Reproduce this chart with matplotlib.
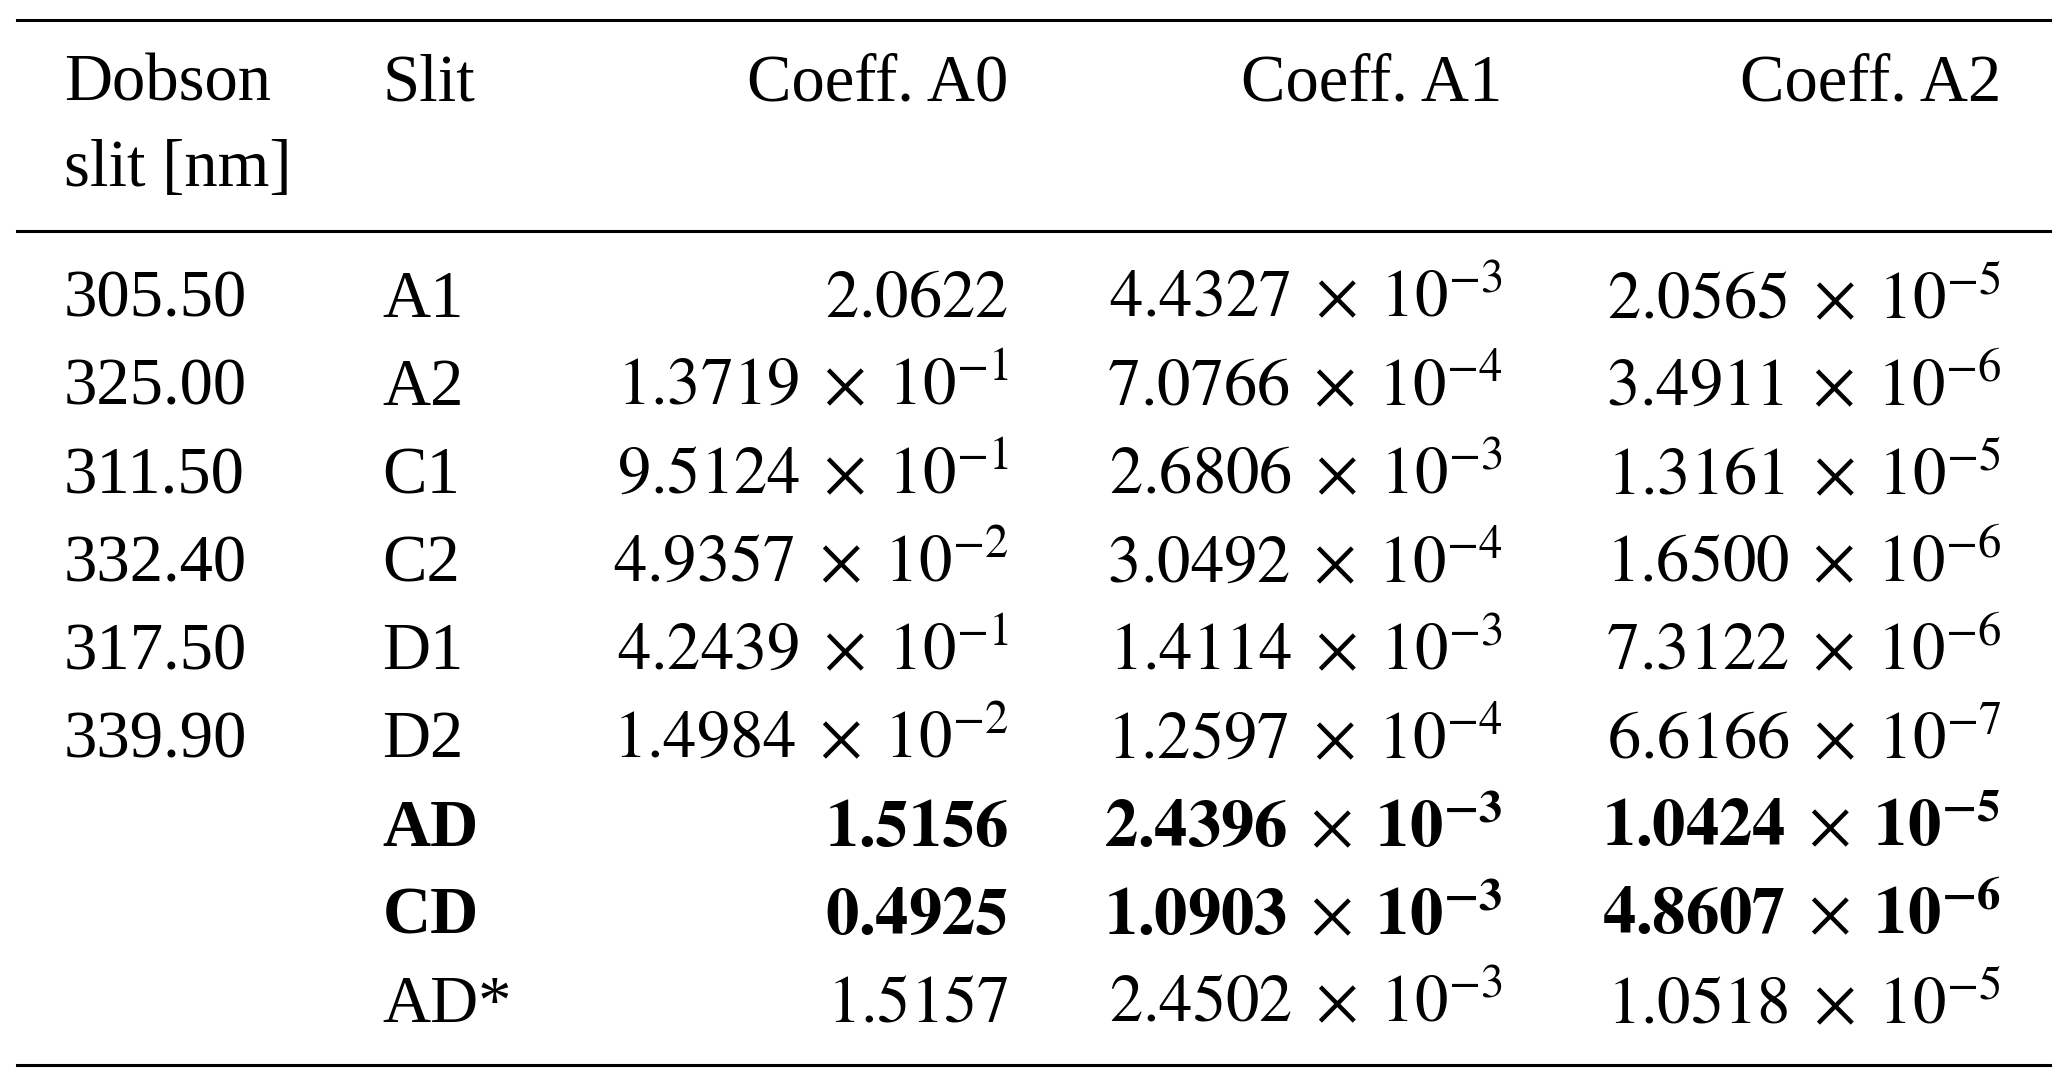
import matplotlib
matplotlib.use("Agg")
import matplotlib.pyplot as plt

plt.rcParams['mathtext.fontset'] = 'stix'
plt.rcParams['font.family'] = ['Liberation Serif', 'DejaVu Serif']

header = [["Dobson", "slit [nm]"], ["Slit"], ["Coeff. A0"], ["Coeff. A1"], ["Coeff. A2"]]
wavelengths = ["305.50", "325.00", "311.50", "332.40", "317.50", "339.90", "", "", ""]
slits = ["A1", "A2", "C1", "C2", "D1", "D2", "AD", "CD", "AD*"]
a0 = [("2.0622", None), ("1.3719", -1), ("9.5124", -1), ("4.9357", -2), ("4.2439", -1),
      ("1.4984", -2), ("1.5156", None), ("0.4925", None), ("1.5157", None)]
a1 = [("4.4327", -3), ("7.0766", -4), ("2.6806", -3), ("3.0492", -4), ("1.4114", -3),
      ("1.2597", -4), ("2.4396", -3), ("1.0903", -3), ("2.4502", -3)]
a2 = [("2.0565", -5), ("3.4911", -6), ("1.3161", -5), ("1.6500", -6), ("7.3122", -6),
      ("6.6166", -7), ("1.0424", -5), ("4.8607", -6), ("1.0518", -5)]
bold_rows = [False] * 6 + [True, True, False]

def fmt(v, bold):
    m, e = v
    if bold:
        if e is None:
            return r"$\mathbf{%s}$" % m
        return r"$\mathbf{%s}\;\times\;\mathbf{10}^{\mathbf{%d}}$" % (m, e)
    if e is None:
        return r"$%s$" % m
    return r"$%s\;\times\;10^{%d}$" % (m, e)

fig = plt.figure(figsize=(20.67, 10.88), dpi=100)
fs = 48
def y(f):
    return 1 - f

for yy in [0.018, 0.212, 0.979]:
    fig.add_artist(plt.Line2D([0.008, 0.992], [y(yy), y(yy)], color='black', lw=2.2))

col_x = [0.031, 0.185, 0.488, 0.727, 0.968]
col_ha = ['left', 'left', 'right', 'right', 'right']
for i, h in enumerate(header):
    for j, line in enumerate(h):
        fig.text(col_x[i], y(0.077 + j * 0.079), line, ha=col_ha[i], va='center', fontsize=fs)

for r in range(len(slits)):
    yy = y(0.276 + r * 0.081)
    b = bold_rows[r]
    w = 'bold' if b else 'normal'
    fig.text(col_x[0], yy, wavelengths[r], ha='left', va='center', fontsize=fs)
    fig.text(col_x[1], yy, slits[r], ha='left', va='center', fontsize=fs, fontweight=w)
    for c, arr in zip([2, 3, 4], [a0, a1, a2]):
        fig.text(col_x[c], yy, fmt(arr[r], b), ha='right', va='center', fontsize=fs)

fig.savefig("out.png", dpi=100, facecolor='white')
